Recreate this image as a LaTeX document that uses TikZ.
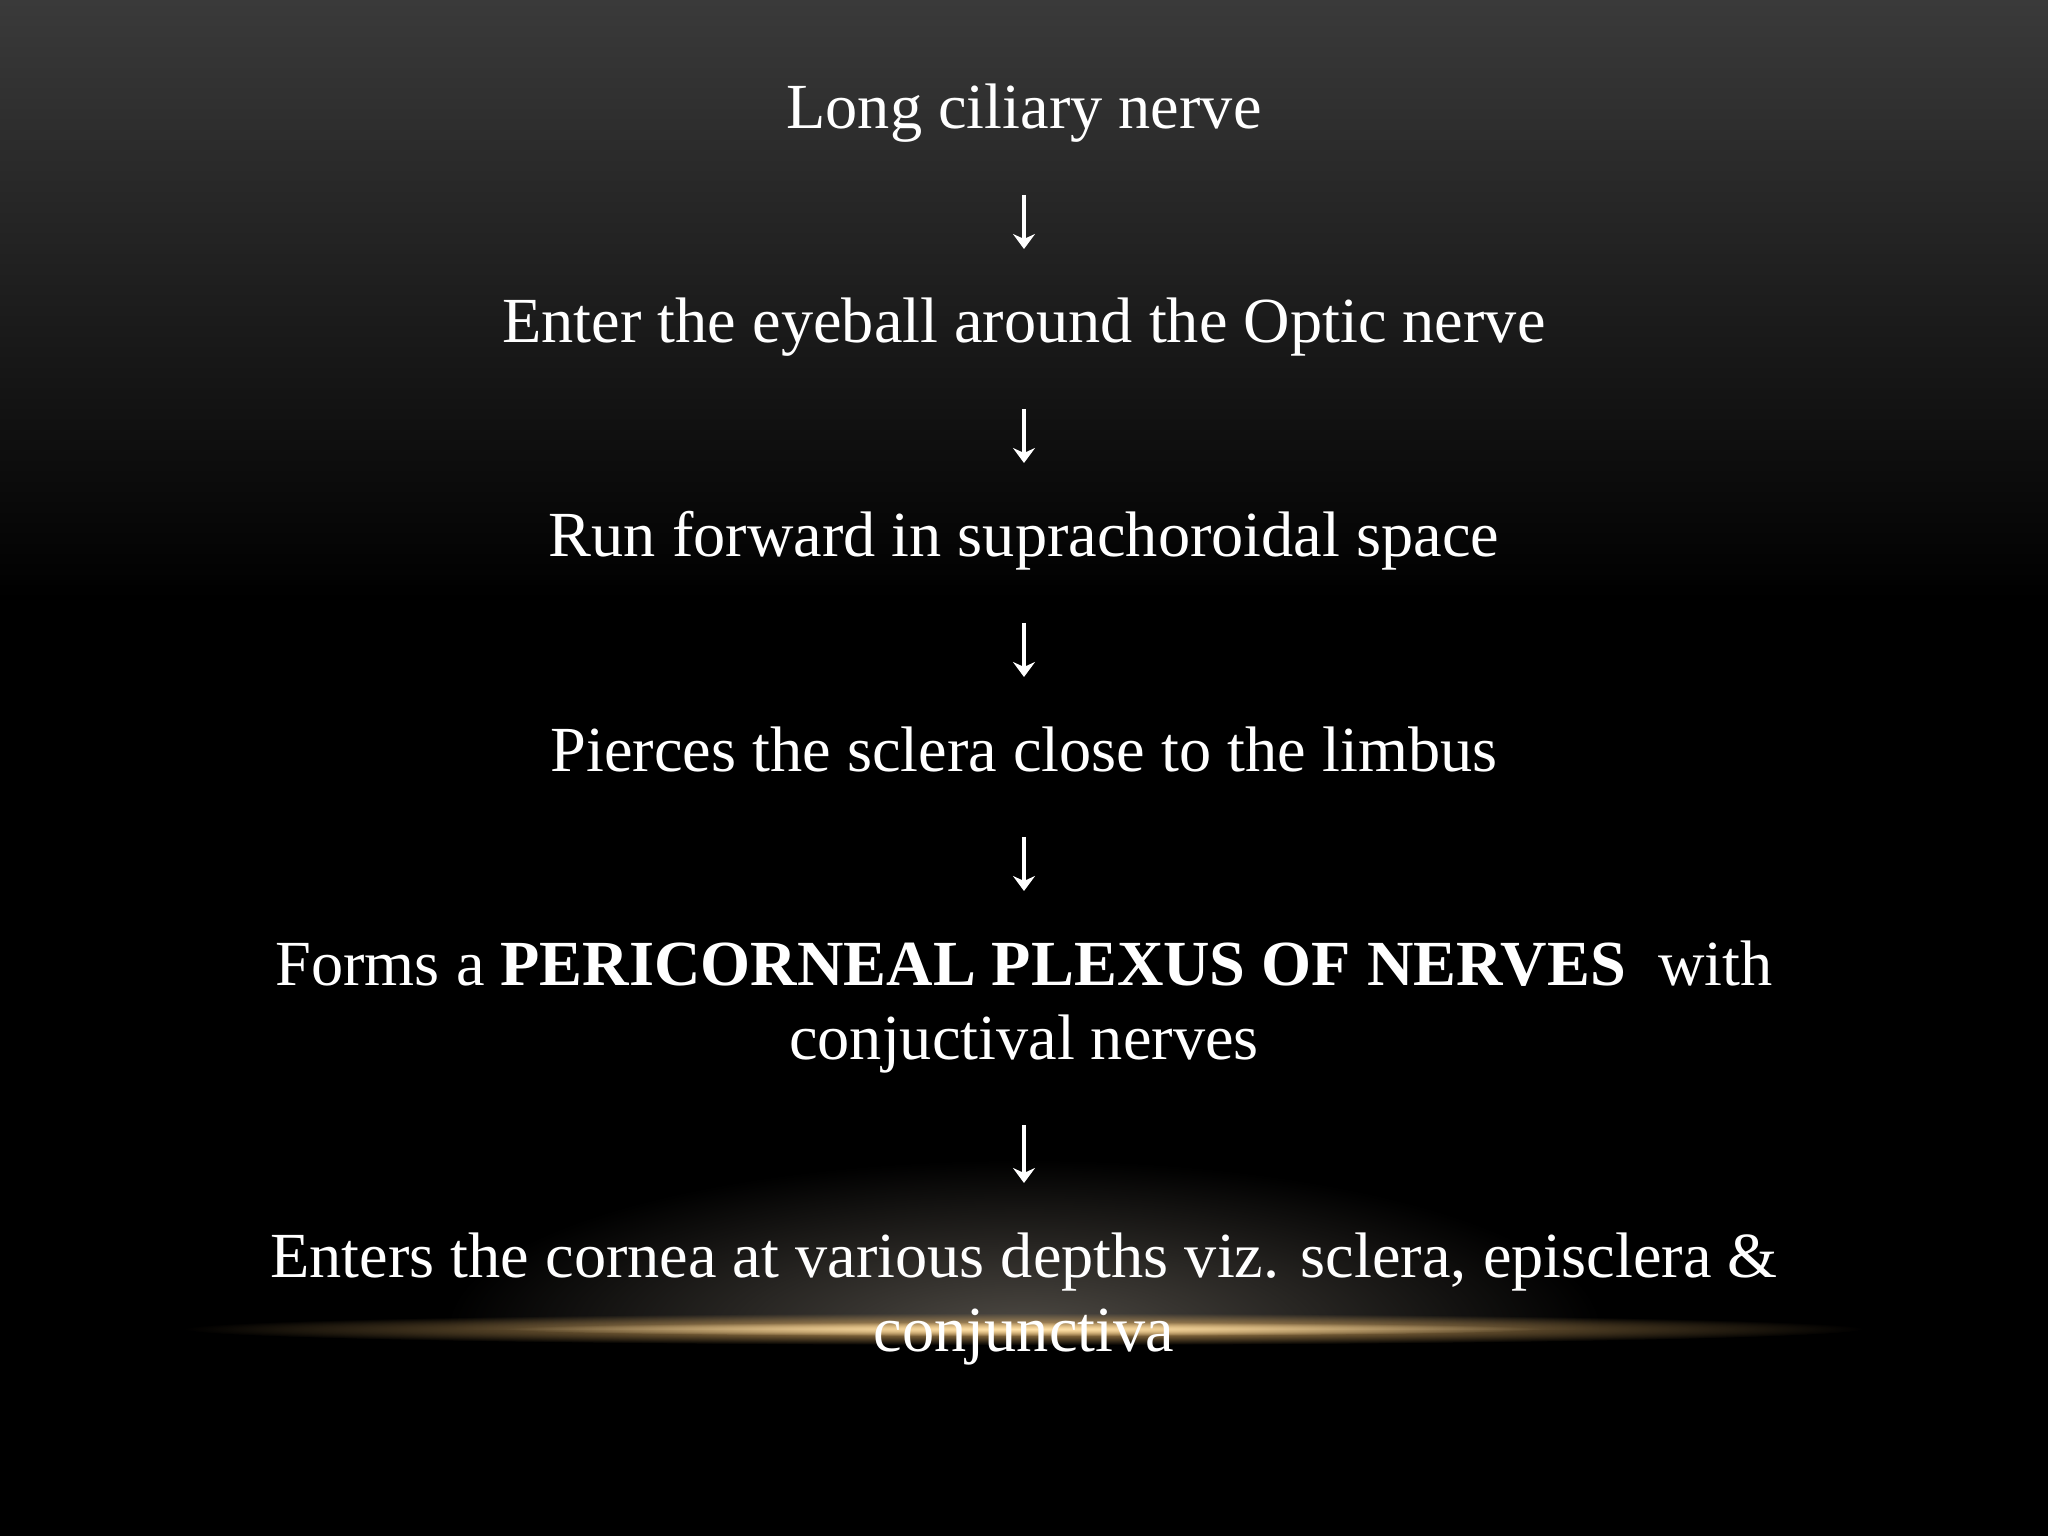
\documentclass[tikz,border=0pt]{standalone}
\usepackage{fontspec}
\setmainfont{Liberation Serif}
\usetikzlibrary{positioning,arrows.meta,fadings}

\definecolor{slidegray}{RGB}{58,58,58}
\definecolor{halogray}{RGB}{78,74,68}
\definecolor{glowgold}{RGB}{214,168,98}
\definecolor{glowcore}{RGB}{255,226,170}
\tikzfading[name=glowfade, inner color=transparent!0, outer color=transparent!100]

\begin{document}
\begin{tikzpicture}[>={Stealth[length=0.15cm,width=0.22cm,inset=0.05cm]}, node distance=2.14cm]
\tikzstyle{flowtext}=[text=white,font=\fontsize{18.3}{21}\selectfont,align=center,inner sep=0pt,anchor=base]
\tikzstyle{flowarrow}=[->,white,line width=0.035cm,shorten <=0.66cm,shorten >=0.94cm]

% slide background
\useasboundingbox (0,-15.36) rectangle (20.48,0);
\fill[black] (0,-15.36) rectangle (20.48,0);
\shade[top color=slidegray, bottom color=black] (0,-6) rectangle (20.48,0);
\begin{scope}
  \clip (0,-13.29) rectangle (20.48,-11);
  \fill[halogray, path fading=glowfade] (10.24,-13.29) ellipse (5.8cm and 1.7cm);
\end{scope}
\fill[glowgold, path fading=glowfade] (10.24,-13.29) ellipse (8.4cm and 0.16cm);
\fill[glowcore, path fading=glowfade] (10.24,-13.29) ellipse (5.2cm and 0.07cm);

% steps (base = last line of a node)
\node[flowtext] (lcn) at (10.24,-1.29) {Long ciliary nerve};
\node[flowtext, below=of lcn.base, anchor=base] (ebn) {Enter the eyeball around the Optic nerve};
\node[flowtext, below=of ebn.base, anchor=base] (rfs) {Run forward in suprachoroidal space};
\node[flowtext, below=of rfs.base, anchor=base] (psl) {Pierces the sclera close to the limbus};
\node[flowtext, below=2.88cm of psl.base, anchor=base] (pcp) {Forms a \textbf{PERICORNEAL PLEXUS OF NERVES}\ \ with\\ conjuctival nerves};
\node[flowtext, below=2.92cm of pcp.base, anchor=base] (ecd) {Enters the cornea at various depths viz. sclera, episclera \&\\ conjunctiva};

\draw[flowarrow] (lcn.base) -- (ebn.base);
\draw[flowarrow] (ebn.base) -- (rfs.base);
\draw[flowarrow] (rfs.base) -- (psl.base);
\draw[flowarrow, shorten >=1.68cm] (psl.base) -- (pcp.base);
\draw[flowarrow, shorten >=1.68cm] (pcp.base) -- (ecd.base);
\end{tikzpicture}
\end{document}
